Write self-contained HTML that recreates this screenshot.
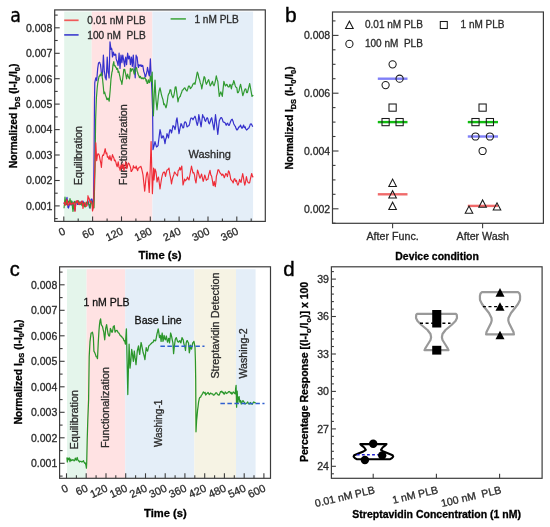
<!DOCTYPE html><html><head><meta charset="utf-8"><title>Figure</title><style>html,body{margin:0;padding:0;background:#fff;}svg{display:block;}</style></head><body><svg width="550" height="527" viewBox="0 0 550 527" font-family="'Liberation Sans', Arial, sans-serif">
<rect width="550" height="527" fill="#fff"/>
<rect x="64.2" y="11.6" width="27.5" height="209.8" fill="#e4f5eb"/>
<rect x="91.7" y="11.6" width="60.7" height="209.8" fill="#ffe2e3"/>
<rect x="152.4" y="11.6" width="100.7" height="209.8" fill="#e4eef8"/>
<text x="82.0" y="185.3" font-size="10.8" fill="#2b2b2b" font-weight="normal" transform="rotate(-90 82.0 185.3)"  stroke="#2b2b2b" stroke-width="0.3">Equilibration</text>
<text x="127.0" y="185.2" font-size="10.8" fill="#2b2b2b" font-weight="normal" transform="rotate(-90 127.0 185.2)"  stroke="#2b2b2b" stroke-width="0.3">Functionalization</text>
<clipPath id="ca"><rect x="55" y="10.5" width="210" height="210.5"/></clipPath>
<g clip-path="url(#ca)">
<polyline points="64.0,203.8 64.5,202.1 65.0,202.0 65.5,200.9 66.0,202.3 66.5,199.6 67.0,197.4 67.5,203.0 68.0,207.6 68.5,208.0 69.0,206.0 69.5,204.4 70.0,202.5 70.5,203.3 71.0,205.2 71.5,203.8 72.0,204.0 72.5,203.7 73.0,202.0 73.5,205.4 74.0,205.6 74.5,208.3 75.0,210.5 75.5,205.3 76.0,202.5 76.5,201.0 77.0,201.4 77.5,204.5 78.0,204.4 78.5,203.9 79.0,203.1 79.5,202.1 80.0,204.6 80.5,203.1 81.0,201.8 81.5,201.6 82.0,203.6 82.5,201.8 83.0,201.2 83.5,202.8 84.0,205.3 84.5,203.8 85.0,203.8 85.5,204.5 86.0,204.1 86.5,204.1 87.0,204.3 87.5,202.0 88.0,200.9 88.5,203.4 89.0,205.2 89.5,207.5 90.0,208.2 90.5,202.2 91.0,199.4 91.5,199.0 92.0,199.1 92.5,202.1 93.0,207.0 93.6,200.0 94.1,150.0 94.5,100.0 94.8,82.6 95.3,80.1 95.8,77.9 96.2,78.0 96.7,80.7 97.7,68.4 98.6,62.7 99.1,62.5 99.6,62.2 100.0,63.4 100.5,64.6 101.0,69.0 101.5,74.1 102.0,74.0 102.4,76.0 103.4,55.1 104.3,71.2 104.8,74.2 105.3,77.9 105.8,77.8 106.2,79.8 107.2,57.0 108.1,72.2 108.6,73.7 109.1,77.9 110.0,41.8 110.5,45.8 111.0,49.4 111.5,48.3 111.9,49.4 112.4,57.0 112.9,55.8 113.4,52.2 114.3,55.1 114.8,55.3 115.3,54.1 115.8,54.5 116.2,58.9 116.7,60.6 117.2,61.7 118.1,65.5 119.1,53.2 120.0,68.4 121.0,55.1 121.5,57.8 121.9,62.7 122.8,55.1 123.3,58.0 123.8,60.8 124.2,63.7 124.7,66.5 125.2,59.8 125.7,57.0 126.6,64.6 127.1,58.7 127.6,53.2 128.1,55.8 128.5,58.9 129.0,58.4 129.5,56.0 129.9,59.1 130.4,64.6 130.9,61.5 131.4,57.0 131.9,60.7 132.3,66.5 132.8,60.5 133.3,55.1 134.2,68.4 134.7,72.3 135.2,77.8 136.1,55.1 136.6,57.5 137.1,57.0 137.6,61.8 138.0,65.5 138.5,67.5 139.0,64.6 139.4,65.7 139.9,65.5 140.4,65.9 140.9,64.6 141.4,66.4 141.8,66.5 142.3,65.4 142.8,65.5 143.7,71.2 144.2,72.6 144.7,74.1 145.1,76.9 145.6,76.9 146.1,74.6 146.6,73.1 147.1,70.4 147.5,67.4 148.0,69.8 148.5,72.2 148.9,74.7 149.4,75.9 150.4,58.9 151.1,75.9 151.8,88.0 152.6,110.0 153.0,149.7 153.5,147.5 154.0,146.0 154.5,143.7 155.0,141.7 155.8,144.6 156.5,147.0 157.2,146.5 158.0,145.7 160.0,129.7 160.8,133.0 161.5,138.0 162.2,137.7 163.0,135.7 163.7,137.1 164.3,139.8 165.0,143.7 165.7,139.1 166.3,138.0 167.0,133.7 167.8,135.5 168.5,138.0 169.2,132.9 170.0,129.7 170.8,130.2 171.5,133.0 172.2,129.8 173.0,125.7 173.7,126.0 174.3,127.1 175.0,129.7 175.7,126.3 176.3,120.6 177.0,117.8 179.0,133.7 179.7,130.0 180.3,127.0 181.0,123.7 181.7,124.7 182.3,126.5 183.0,128.0 183.7,127.3 184.3,123.3 185.0,121.8 185.7,122.3 186.3,123.4 187.0,127.0 187.7,126.4 188.3,125.8 189.0,125.7 189.7,123.4 190.3,120.1 191.0,118.0 191.7,118.1 192.3,118.5 193.0,119.8 193.7,118.1 194.3,117.6 195.0,116.2 195.8,118.9 196.5,122.4 197.3,125.3 198.1,121.9 198.8,114.7 201.1,126.8 202.6,114.7 203.4,117.2 204.1,117.1 204.9,120.7 205.6,121.4 206.4,119.0 207.1,117.7 207.9,118.8 208.6,122.7 209.4,123.8 210.2,121.8 210.9,119.1 211.7,117.7 214.0,129.9 215.5,114.7 217.8,134.4 219.3,120.7 220.1,119.1 220.8,117.7 221.6,117.7 222.4,119.3 223.1,121.8 223.9,122.3 224.7,122.3 225.4,123.5 226.2,125.3 226.9,123.8 227.7,123.1 228.4,125.1 229.2,125.3 229.9,123.5 230.7,121.2 231.4,119.7 232.2,119.2 233.0,121.2 233.7,123.7 234.5,125.3 235.3,126.3 236.0,128.4 236.8,129.9 237.5,129.6 238.3,128.1 239.0,126.8 239.8,126.8 240.5,125.0 241.3,127.1 242.1,128.3 242.8,127.1 243.6,125.0 244.3,127.7 245.1,126.8 245.8,129.0 246.6,130.0 247.4,129.3 248.2,128.3 248.9,127.9 249.7,126.0 250.4,124.0 251.2,123.8 251.9,125.0 252.7,126.8" fill="none" stroke="#3530cc" stroke-width="1.2" stroke-linejoin="round" />
<polyline points="64.0,208.2 64.5,203.5 65.0,197.2 65.5,201.4 66.0,204.3 66.5,204.7 67.0,201.9 67.5,202.1 68.0,202.2 68.5,201.0 69.0,202.8 69.5,202.6 70.0,198.5 70.5,201.7 71.0,202.7 71.5,200.9 72.0,201.2 72.5,207.6 73.0,211.3 73.5,207.6 74.0,203.8 74.5,201.3 75.0,202.5 75.5,202.1 76.0,202.6 76.5,201.7 77.0,201.7 77.5,202.8 78.0,200.8 78.5,200.8 79.0,202.4 79.5,203.2 80.0,204.5 80.5,203.3 81.0,202.7 81.5,203.8 82.0,205.6 82.5,203.3 83.0,202.8 83.5,203.3 84.0,203.4 84.5,206.3 85.0,207.0 85.5,206.4 86.0,204.6 86.5,202.4 87.0,202.1 87.5,201.3 88.0,202.9 88.5,203.8 89.0,204.6 89.5,205.6 90.0,207.9 90.5,204.7 91.0,202.7 91.5,201.0 92.0,202.7 92.5,206.3 93.0,206.0 93.5,207.9 94.0,208.0 95.0,170.0 95.6,120.0 96.4,98.0 97.2,88.0 97.7,83.4 98.2,80.7 99.1,76.0 99.6,76.2 100.1,74.6 100.5,75.7 101.0,74.1 101.5,72.7 102.0,76.0 102.5,78.8 102.9,82.6 103.4,87.7 103.9,93.6 104.6,92.0 105.4,95.2 106.2,97.0 106.9,99.7 107.5,99.5 108.0,98.0 108.6,99.5 109.2,101.2 109.7,95.4 110.2,90.0 111.0,78.8 111.5,75.4 111.9,72.2 112.4,70.7 112.9,65.5 113.8,61.7 114.3,65.8 114.8,65.5 115.2,65.9 115.7,67.4 116.2,67.4 116.7,69.3 117.6,68.4 118.1,72.5 118.6,71.2 119.0,72.1 119.5,75.0 120.0,76.8 120.5,79.8 121.0,80.8 121.4,81.7 121.9,84.5 122.8,77.9 123.3,74.1 123.8,69.3 124.2,70.3 124.7,69.3 125.2,72.1 125.7,74.1 126.6,78.8 127.1,75.6 127.6,74.1 128.1,76.0 128.5,76.9 129.0,78.1 129.5,78.8 129.9,75.5 130.4,68.4 130.9,69.8 131.4,71.2 131.9,68.9 132.3,69.3 132.8,68.8 133.3,70.3 134.2,74.1 134.7,73.2 135.2,69.3 135.6,68.3 136.1,68.4 136.6,67.7 137.1,71.2 137.6,72.1 138.0,74.1 138.5,75.1 139.0,76.0 139.4,77.6 139.9,76.9 140.4,76.4 140.9,77.9 141.4,78.6 141.8,77.9 142.3,78.7 142.8,77.9 143.7,78.8 144.2,77.7 144.7,77.9 145.1,78.2 145.6,78.8 146.1,81.1 146.6,79.8 147.1,83.4 147.5,83.5 148.0,82.5 148.5,79.8 148.9,81.5 149.4,82.6 149.9,80.4 150.4,76.0 150.9,78.7 151.3,81.6 152.2,72.2 152.8,100.0 153.4,115.8 154.2,95.0 155.0,80.0 156.0,100.0 156.5,104.8 157.0,109.8 158.5,95.0 159.2,90.6 160.0,87.9 160.8,91.5 161.5,95.0 162.2,97.3 163.0,99.8 163.8,104.7 164.5,104.0 165.2,105.7 166.0,107.8 166.7,105.1 167.3,101.3 168.0,96.0 168.7,93.8 169.3,93.1 170.0,89.9 170.8,89.8 171.5,94.0 172.2,96.0 173.0,97.8 173.8,95.8 174.5,92.0 175.2,87.1 176.0,86.9 178.0,101.8 178.8,98.2 179.5,97.0 180.2,96.5 181.0,93.9 181.7,92.3 182.3,90.2 183.0,90.0 183.7,88.9 184.3,88.1 185.0,87.9 185.7,89.7 186.3,90.4 187.0,91.0 187.7,89.0 188.3,86.9 189.0,85.9 189.7,86.5 190.3,88.6 191.0,88.0 191.7,87.0 192.3,85.9 193.0,83.9 193.7,83.9 194.3,82.9 195.0,84.3 197.3,72.1 198.1,73.9 198.8,77.8 199.6,79.7 200.3,82.9 201.1,84.9 201.8,88.9 204.1,76.7 204.9,77.6 205.6,81.9 206.4,84.3 207.2,82.4 207.9,80.9 208.7,79.7 209.4,82.4 210.2,85.8 211.0,84.6 211.7,83.1 212.5,81.3 213.2,84.5 214.0,85.8 214.8,83.4 215.5,80.5 216.3,75.9 217.1,79.4 217.8,81.3 219.3,96.4 220.1,93.8 220.8,91.9 221.6,94.1 222.3,96.4 223.9,81.3 224.7,84.1 225.4,86.0 226.2,84.8 226.9,84.3 227.7,86.2 228.4,87.0 229.2,86.8 229.9,84.3 230.7,85.8 231.4,88.9 232.2,84.3 232.9,84.5 233.7,80.5 234.5,82.8 235.2,85.7 236.0,87.3 236.8,87.7 237.5,92.6 238.3,92.6 239.1,90.6 239.8,86.9 240.6,84.3 241.3,87.7 242.1,92.0 242.8,95.7 243.6,93.3 244.3,90.9 245.1,88.9 245.9,89.0 246.6,92.6 247.4,92.6 248.2,89.5 248.9,86.6 249.7,83.5 252.0,96.4 252.6,95.8 253.2,95.0" fill="none" stroke="#309a30" stroke-width="1.2" stroke-linejoin="round" />
<polyline points="64.0,203.9 64.5,202.2 65.0,205.2 65.5,205.1 66.0,203.9 66.5,201.4 67.0,199.5 67.5,202.2 68.0,205.4 68.5,204.9 69.0,204.2 69.5,201.9 70.0,201.6 70.5,203.9 71.0,204.6 71.5,203.6 72.0,204.0 72.5,203.0 73.0,203.8 73.5,202.6 74.0,203.1 74.5,207.4 75.0,211.5 75.5,207.0 76.0,201.0 76.5,201.2 77.0,202.6 77.5,200.6 78.0,201.7 78.5,204.2 79.0,204.6 79.5,202.8 80.0,203.1 80.5,203.9 81.0,202.2 81.5,201.5 82.0,200.9 82.5,204.0 83.0,208.5 83.5,205.1 84.0,203.0 84.5,203.1 85.0,202.3 85.5,205.3 86.0,206.5 86.5,205.9 87.0,205.7 87.5,201.6 88.0,195.7 88.5,198.9 89.0,197.9 89.5,200.0 90.0,202.5 90.5,201.0 91.0,201.9 91.5,201.7 92.0,203.6 92.5,211.0 93.0,209.0 93.6,205.0 94.6,175.0 95.8,142.7 96.7,160.6 97.3,155.8 98.0,153.8 98.7,154.0 99.3,155.5 100.1,159.8 100.8,162.9 101.4,167.5 102.2,157.2 102.8,155.0 103.5,155.5 104.3,152.6 105.2,148.7 106.1,153.8 106.8,152.9 107.4,157.2 108.1,156.7 108.7,158.9 109.3,159.2 109.9,155.5 110.6,159.1 111.2,160.6 111.8,158.1 112.5,154.6 113.2,156.8 113.9,158.1 114.5,160.8 115.0,160.0 115.8,161.9 116.5,164.8 117.2,166.7 117.7,164.4 118.2,161.9 119.1,167.6 119.6,167.8 120.1,170.5 120.5,167.6 121.0,164.8 121.5,166.0 122.0,168.6 122.5,165.5 122.9,163.8 123.4,166.4 123.9,170.5 124.4,168.6 124.9,166.7 125.8,161.9 126.3,164.9 126.8,168.6 127.2,167.6 127.7,164.8 128.4,163.0 129.1,163.8 129.8,165.5 130.6,167.6 131.1,171.4 131.5,171.4 132.0,170.5 132.5,169.5 132.9,168.8 133.4,165.7 134.2,167.8 134.9,167.6 135.6,168.1 136.2,166.0 136.9,169.1 137.7,170.7 138.3,168.1 138.9,168.0 139.5,167.0 140.2,167.0 140.8,166.3 141.5,168.2 142.2,171.1 143.0,175.0 144.7,191.1 146.0,178.0 146.7,173.7 147.3,172.0 147.8,174.3 148.3,180.0 149.2,192.4 150.2,170.0 151.1,141.5 151.8,170.0 152.4,193.6 153.0,180.0 153.6,168.0 154.0,180.0 154.5,174.7 155.0,169.0 155.5,170.5 156.0,172.0 156.5,176.3 157.0,182.0 157.8,178.5 158.5,177.0 160.0,189.0 160.8,183.5 161.5,179.0 162.2,175.6 163.0,173.0 163.8,172.1 164.5,172.0 165.0,174.2 165.5,176.5 166.2,172.8 167.0,170.0 167.7,169.7 168.3,169.2 169.0,168.0 169.5,171.9 170.0,175.0 170.8,178.8 171.5,184.0 172.2,179.9 173.0,177.0 173.8,174.9 174.5,172.0 175.2,172.8 176.0,174.0 176.8,175.0 177.5,176.0 178.2,170.5 179.0,170.0 179.8,167.3 180.5,170.0 181.2,168.3 181.8,166.0 183.0,185.0 183.8,182.3 184.5,179.0 185.2,180.9 186.0,180.0 186.8,179.2 187.5,177.0 188.2,178.7 189.0,180.0 191.5,166.0 192.2,169.5 193.0,173.0 193.8,172.6 194.5,175.0 195.2,179.9 196.0,183.0 197.5,170.0 198.2,171.9 199.0,175.0 199.5,177.1 200.0,178.2 200.8,176.3 201.6,174.0 202.4,178.0 203.2,181.4 203.9,179.1 204.7,175.0 205.5,177.2 206.3,180.3 207.1,179.4 207.9,179.3 208.6,175.4 209.3,172.9 210.0,170.3 210.8,174.9 211.6,176.1 212.4,180.5 213.2,185.6 213.7,184.7 214.2,181.4 214.8,184.8 215.3,186.6 215.9,182.1 216.4,176.1 217.2,173.8 217.9,169.8 218.7,169.8 219.5,171.9 220.3,173.3 221.1,174.0 221.9,175.6 222.7,174.0 223.5,175.2 224.3,177.7 225.1,175.6 225.8,173.5 226.6,174.4 227.4,176.6 227.9,174.0 228.5,170.8 229.3,172.1 230.1,175.6 230.8,179.6 231.6,180.3 232.4,181.3 233.2,183.0 234.0,179.3 234.8,178.7 235.6,181.3 236.4,180.3 237.2,183.7 238.0,185.1 238.8,182.7 239.6,179.3 240.3,181.4 241.1,182.4 241.9,177.6 242.7,173.5 243.4,177.1 244.1,182.0 244.8,185.1 245.6,181.8 246.4,176.6 247.2,180.4 248.0,182.4 248.8,182.9 249.6,183.0 250.3,179.4 251.0,176.5 251.7,173.5 252.5,176.5 253.3,177.2" fill="none" stroke="#ef2b36" stroke-width="1.15" stroke-linejoin="round" />
</g>
<rect x="54.7" y="9.9" width="210.6" height="211.5" fill="none" stroke="#3c3c3c" stroke-width="1.2"/>
<line x1="54.7" y1="205.9" x2="59.7" y2="205.9" stroke="#3c3c3c" stroke-width="1.1"/>
<line x1="54.7" y1="180.5" x2="59.7" y2="180.5" stroke="#3c3c3c" stroke-width="1.1"/>
<line x1="54.7" y1="155.0" x2="59.7" y2="155.0" stroke="#3c3c3c" stroke-width="1.1"/>
<line x1="54.7" y1="129.6" x2="59.7" y2="129.6" stroke="#3c3c3c" stroke-width="1.1"/>
<line x1="54.7" y1="104.1" x2="59.7" y2="104.1" stroke="#3c3c3c" stroke-width="1.1"/>
<line x1="54.7" y1="78.7" x2="59.7" y2="78.7" stroke="#3c3c3c" stroke-width="1.1"/>
<line x1="54.7" y1="53.3" x2="59.7" y2="53.3" stroke="#3c3c3c" stroke-width="1.1"/>
<line x1="54.7" y1="27.8" x2="59.7" y2="27.8" stroke="#3c3c3c" stroke-width="1.1"/>
<line x1="54.7" y1="218.6" x2="57.7" y2="218.6" stroke="#3c3c3c" stroke-width="1.1"/>
<line x1="54.7" y1="193.2" x2="57.7" y2="193.2" stroke="#3c3c3c" stroke-width="1.1"/>
<line x1="54.7" y1="167.7" x2="57.7" y2="167.7" stroke="#3c3c3c" stroke-width="1.1"/>
<line x1="54.7" y1="142.3" x2="57.7" y2="142.3" stroke="#3c3c3c" stroke-width="1.1"/>
<line x1="54.7" y1="116.9" x2="57.7" y2="116.9" stroke="#3c3c3c" stroke-width="1.1"/>
<line x1="54.7" y1="91.4" x2="57.7" y2="91.4" stroke="#3c3c3c" stroke-width="1.1"/>
<line x1="54.7" y1="66.0" x2="57.7" y2="66.0" stroke="#3c3c3c" stroke-width="1.1"/>
<line x1="54.7" y1="40.5" x2="57.7" y2="40.5" stroke="#3c3c3c" stroke-width="1.1"/>
<line x1="54.7" y1="15.1" x2="57.7" y2="15.1" stroke="#3c3c3c" stroke-width="1.1"/>
<line x1="63.8" y1="221.4" x2="63.8" y2="216.4" stroke="#3c3c3c" stroke-width="1.1"/>
<line x1="92.6" y1="221.4" x2="92.6" y2="216.4" stroke="#3c3c3c" stroke-width="1.1"/>
<line x1="121.5" y1="221.4" x2="121.5" y2="216.4" stroke="#3c3c3c" stroke-width="1.1"/>
<line x1="150.3" y1="221.4" x2="150.3" y2="216.4" stroke="#3c3c3c" stroke-width="1.1"/>
<line x1="179.1" y1="221.4" x2="179.1" y2="216.4" stroke="#3c3c3c" stroke-width="1.1"/>
<line x1="208.0" y1="221.4" x2="208.0" y2="216.4" stroke="#3c3c3c" stroke-width="1.1"/>
<line x1="236.8" y1="221.4" x2="236.8" y2="216.4" stroke="#3c3c3c" stroke-width="1.1"/>
<line x1="78.2" y1="221.4" x2="78.2" y2="218.4" stroke="#3c3c3c" stroke-width="1.1"/>
<line x1="107.1" y1="221.4" x2="107.1" y2="218.4" stroke="#3c3c3c" stroke-width="1.1"/>
<line x1="135.9" y1="221.4" x2="135.9" y2="218.4" stroke="#3c3c3c" stroke-width="1.1"/>
<line x1="164.7" y1="221.4" x2="164.7" y2="218.4" stroke="#3c3c3c" stroke-width="1.1"/>
<line x1="193.6" y1="221.4" x2="193.6" y2="218.4" stroke="#3c3c3c" stroke-width="1.1"/>
<line x1="222.4" y1="221.4" x2="222.4" y2="218.4" stroke="#3c3c3c" stroke-width="1.1"/>
<line x1="251.2" y1="221.4" x2="251.2" y2="218.4" stroke="#3c3c3c" stroke-width="1.1"/>
<text x="52.3" y="209.7" font-size="10.5" fill="#2b2b2b" text-anchor="end" stroke="#2b2b2b" stroke-width="0.3">0.001</text>
<text x="52.3" y="184.2" font-size="10.5" fill="#2b2b2b" text-anchor="end" stroke="#2b2b2b" stroke-width="0.3">0.002</text>
<text x="52.3" y="158.8" font-size="10.5" fill="#2b2b2b" text-anchor="end" stroke="#2b2b2b" stroke-width="0.3">0.003</text>
<text x="52.3" y="133.3" font-size="10.5" fill="#2b2b2b" text-anchor="end" stroke="#2b2b2b" stroke-width="0.3">0.004</text>
<text x="52.3" y="107.9" font-size="10.5" fill="#2b2b2b" text-anchor="end" stroke="#2b2b2b" stroke-width="0.3">0.005</text>
<text x="52.3" y="82.5" font-size="10.5" fill="#2b2b2b" text-anchor="end" stroke="#2b2b2b" stroke-width="0.3">0.006</text>
<text x="52.3" y="57.0" font-size="10.5" fill="#2b2b2b" text-anchor="end" stroke="#2b2b2b" stroke-width="0.3">0.007</text>
<text x="52.3" y="31.6" font-size="10.5" fill="#2b2b2b" text-anchor="end" stroke="#2b2b2b" stroke-width="0.3">0.008</text>
<text x="66.3" y="233.8" font-size="10.8" fill="#2b2b2b" text-anchor="end" transform="rotate(-25 66.3 233.8)" stroke="#2b2b2b" stroke-width="0.3">0</text>
<text x="95.1" y="233.8" font-size="10.8" fill="#2b2b2b" text-anchor="end" transform="rotate(-25 95.1 233.8)" stroke="#2b2b2b" stroke-width="0.3">60</text>
<text x="124.0" y="233.8" font-size="10.8" fill="#2b2b2b" text-anchor="end" transform="rotate(-25 124.0 233.8)" stroke="#2b2b2b" stroke-width="0.3">120</text>
<text x="152.8" y="233.8" font-size="10.8" fill="#2b2b2b" text-anchor="end" transform="rotate(-25 152.8 233.8)" stroke="#2b2b2b" stroke-width="0.3">180</text>
<text x="181.6" y="233.8" font-size="10.8" fill="#2b2b2b" text-anchor="end" transform="rotate(-25 181.6 233.8)" stroke="#2b2b2b" stroke-width="0.3">240</text>
<text x="210.5" y="233.8" font-size="10.8" fill="#2b2b2b" text-anchor="end" transform="rotate(-25 210.5 233.8)" stroke="#2b2b2b" stroke-width="0.3">300</text>
<text x="239.3" y="233.8" font-size="10.8" fill="#2b2b2b" text-anchor="end" transform="rotate(-25 239.3 233.8)" stroke="#2b2b2b" stroke-width="0.3">360</text>
<text x="188.5" y="158.0" font-size="11" fill="#2b2b2b" stroke="#2b2b2b" stroke-width="0.3">Washing</text>
<line x1="64.2" y1="20.3" x2="78.6" y2="20.3" stroke="#f05a5a" stroke-width="1.7"/>
<text x="87.3" y="24.2" font-size="10.1" fill="#2b2b2b" stroke="#2b2b2b" stroke-width="0.3">0.01 nM PLB</text>
<line x1="64.2" y1="34.9" x2="78.6" y2="34.9" stroke="#4646d0" stroke-width="1.7"/>
<text x="87.3" y="38.8" font-size="10.1" fill="#2b2b2b" xml:space="preserve" stroke="#2b2b2b" stroke-width="0.3">100 nM  PLB</text>
<line x1="170.6" y1="18.9" x2="185.9" y2="18.9" stroke="#50ad50" stroke-width="1.7"/>
<text x="194.4" y="22.9" font-size="10.1" fill="#2b2b2b" stroke="#2b2b2b" stroke-width="0.3">1 nM PLB</text>
<text x="17.1" y="168.2" font-size="10.3" fill="#000" font-weight="bold" transform="rotate(-90 17.1 168.2)"  stroke="#000" stroke-width="0.3">Normalized I<tspan dy="2.5" font-size="7.5">DS</tspan><tspan dy="-2.5"> (I-I</tspan><tspan dy="2.5" font-size="7.5">0</tspan><tspan dy="-2.5">/I</tspan><tspan dy="2.5" font-size="7.5">0</tspan><tspan dy="-2.5">)</tspan></text>
<text x="10.2" y="21.8" font-size="19" fill="#000" font-family="DejaVu Sans, sans-serif" stroke="#000" stroke-width="0.35" transform="scale(0.92 1)" transform-origin="10.2 21.8">a</text>
<text x="138.5" y="259.1" font-size="11.3" font-weight="bold" fill="#000" stroke="#000" stroke-width="0.3">Time (s)</text>
<rect x="332.5" y="12.0" width="210.9" height="211.3" fill="none" stroke="#3c3c3c" stroke-width="1.2"/>
<line x1="332.5" y1="208.8" x2="338.5" y2="208.8" stroke="#3c3c3c" stroke-width="1.1"/>
<line x1="332.5" y1="151.0" x2="338.5" y2="151.0" stroke="#3c3c3c" stroke-width="1.1"/>
<line x1="332.5" y1="93.2" x2="338.5" y2="93.2" stroke="#3c3c3c" stroke-width="1.1"/>
<line x1="332.5" y1="35.4" x2="338.5" y2="35.4" stroke="#3c3c3c" stroke-width="1.1"/>
<line x1="332.5" y1="223.2" x2="335.5" y2="223.2" stroke="#3c3c3c" stroke-width="1.1"/>
<line x1="332.5" y1="194.3" x2="335.5" y2="194.3" stroke="#3c3c3c" stroke-width="1.1"/>
<line x1="332.5" y1="179.9" x2="335.5" y2="179.9" stroke="#3c3c3c" stroke-width="1.1"/>
<line x1="332.5" y1="165.4" x2="335.5" y2="165.4" stroke="#3c3c3c" stroke-width="1.1"/>
<line x1="332.5" y1="136.5" x2="335.5" y2="136.5" stroke="#3c3c3c" stroke-width="1.1"/>
<line x1="332.5" y1="122.1" x2="335.5" y2="122.1" stroke="#3c3c3c" stroke-width="1.1"/>
<line x1="332.5" y1="107.6" x2="335.5" y2="107.6" stroke="#3c3c3c" stroke-width="1.1"/>
<line x1="332.5" y1="78.7" x2="335.5" y2="78.7" stroke="#3c3c3c" stroke-width="1.1"/>
<line x1="332.5" y1="64.3" x2="335.5" y2="64.3" stroke="#3c3c3c" stroke-width="1.1"/>
<line x1="332.5" y1="49.8" x2="335.5" y2="49.8" stroke="#3c3c3c" stroke-width="1.1"/>
<line x1="332.5" y1="20.9" x2="335.5" y2="20.9" stroke="#3c3c3c" stroke-width="1.1"/>
<line x1="392.6" y1="223.3" x2="392.6" y2="228.3" stroke="#3c3c3c" stroke-width="1.1"/>
<line x1="482.6" y1="223.3" x2="482.6" y2="228.3" stroke="#3c3c3c" stroke-width="1.1"/>
<text x="330.2" y="212.5" font-size="10.5" fill="#2b2b2b" text-anchor="end" stroke="#2b2b2b" stroke-width="0.3">0.002</text>
<text x="330.2" y="154.7" font-size="10.5" fill="#2b2b2b" text-anchor="end" stroke="#2b2b2b" stroke-width="0.3">0.004</text>
<text x="330.2" y="96.9" font-size="10.5" fill="#2b2b2b" text-anchor="end" stroke="#2b2b2b" stroke-width="0.3">0.006</text>
<text x="330.2" y="39.1" font-size="10.5" fill="#2b2b2b" text-anchor="end" stroke="#2b2b2b" stroke-width="0.3">0.008</text>
<line x1="377.8" y1="78.7" x2="407.5" y2="78.7" stroke="#7f7ff7" stroke-width="2.4"/>
<line x1="377.8" y1="122.1" x2="407.5" y2="122.1" stroke="#11bb11" stroke-width="2.4"/>
<line x1="377.8" y1="194.3" x2="407.5" y2="194.3" stroke="#f06a6a" stroke-width="2.4"/>
<line x1="467.8" y1="136.5" x2="498" y2="136.5" stroke="#7f7ff7" stroke-width="2.4"/>
<line x1="467.8" y1="122.1" x2="498" y2="122.1" stroke="#11bb11" stroke-width="2.4"/>
<line x1="467.8" y1="205.9" x2="498" y2="205.9" stroke="#f06a6a" stroke-width="2.4"/>
<polygon points="388.8,186.4 396.4,186.4 392.6,179.1" fill="none" stroke="#1a1a1a" stroke-width="1.05"/>
<polygon points="388.8,197.9 396.4,197.9 392.6,190.7" fill="none" stroke="#1a1a1a" stroke-width="1.05"/>
<polygon points="388.8,209.5 396.4,209.5 392.6,202.2" fill="none" stroke="#1a1a1a" stroke-width="1.05"/>
<rect x="389.0" y="104.0" width="7.2" height="7.2" fill="none" stroke="#1a1a1a" stroke-width="1.05"/>
<rect x="382.0" y="118.5" width="7.2" height="7.2" fill="none" stroke="#1a1a1a" stroke-width="1.05"/>
<rect x="396.0" y="118.5" width="7.2" height="7.2" fill="none" stroke="#1a1a1a" stroke-width="1.05"/>
<circle cx="392.6" cy="64.3" r="3.6" fill="none" stroke="#1a1a1a" stroke-width="1.05"/>
<circle cx="399.6" cy="78.7" r="3.6" fill="none" stroke="#1a1a1a" stroke-width="1.05"/>
<circle cx="385.6" cy="85.1" r="3.6" fill="none" stroke="#1a1a1a" stroke-width="1.05"/>
<polygon points="465.2,213.2 472.8,213.2 469.0,206.0" fill="none" stroke="#1a1a1a" stroke-width="1.05"/>
<polygon points="478.8,207.2 486.4,207.2 482.6,199.9" fill="none" stroke="#1a1a1a" stroke-width="1.05"/>
<polygon points="493.2,210.0 500.8,210.0 497.0,202.8" fill="none" stroke="#1a1a1a" stroke-width="1.05"/>
<rect x="479.0" y="104.0" width="7.2" height="7.2" fill="none" stroke="#1a1a1a" stroke-width="1.05"/>
<rect x="471.9" y="118.5" width="7.2" height="7.2" fill="none" stroke="#1a1a1a" stroke-width="1.05"/>
<rect x="486.3" y="118.5" width="7.2" height="7.2" fill="none" stroke="#1a1a1a" stroke-width="1.05"/>
<circle cx="475.5" cy="136.5" r="3.6" fill="none" stroke="#1a1a1a" stroke-width="1.05"/>
<circle cx="489.9" cy="136.5" r="3.6" fill="none" stroke="#1a1a1a" stroke-width="1.05"/>
<circle cx="482.6" cy="151.0" r="3.6" fill="none" stroke="#1a1a1a" stroke-width="1.05"/>
<polygon points="345.6,28.4 353.2,28.4 349.4,21.2" fill="none" stroke="#1a1a1a" stroke-width="1.05"/>
<text x="365" y="27.6" font-size="10" fill="#2b2b2b" stroke="#2b2b2b" stroke-width="0.3">0.01 nM PLB</text>
<circle cx="349.4" cy="43.9" r="3.6" fill="none" stroke="#1a1a1a" stroke-width="1.05"/>
<text x="365" y="47" font-size="10" fill="#2b2b2b" xml:space="preserve" stroke="#2b2b2b" stroke-width="0.3">100 nM  PLB</text>
<rect x="440.3" y="21.5" width="7" height="7" fill="none" stroke="#1a1a1a" stroke-width="1.05"/>
<text x="460.6" y="27.6" font-size="10" fill="#2b2b2b" stroke="#2b2b2b" stroke-width="0.3">1 nM PLB</text>
<text x="392.6" y="240.2" font-size="10.7" fill="#2b2b2b" text-anchor="middle" stroke="#2b2b2b" stroke-width="0.3">After Func.</text>
<text x="482.8" y="240.2" font-size="10.7" fill="#2b2b2b" text-anchor="middle" stroke="#2b2b2b" stroke-width="0.3">After Wash</text>
<text x="395.3" y="259.5" font-size="10.45" font-weight="bold" fill="#000" stroke="#000" stroke-width="0.3">Device condition</text>
<text x="293.3" y="169.5" font-size="10.15" fill="#000" font-weight="bold" transform="rotate(-90 293.3 169.5)"  stroke="#000" stroke-width="0.3">Normalized I<tspan dy="2.5" font-size="7.5">DS</tspan><tspan dy="-2.5"> (I-I</tspan><tspan dy="2.5" font-size="7.5">0</tspan><tspan dy="-2.5">/I</tspan><tspan dy="2.5" font-size="7.5">0</tspan><tspan dy="-2.5">)</tspan></text>
<text x="285" y="22.0" font-size="21" fill="#000" stroke="#000" stroke-width="0.4">b</text>
<rect x="67.0" y="269.2" width="19.6" height="209.1" fill="#e4f5eb"/>
<rect x="86.6" y="269.2" width="38.6" height="209.1" fill="#ffe2e3"/>
<rect x="125.2" y="269.2" width="69.1" height="209.1" fill="#e4eef8"/>
<rect x="194.3" y="269.2" width="41.7" height="209.1" fill="#f6f3e4"/>
<rect x="236.0" y="269.2" width="19.6" height="209.1" fill="#e4eef8"/>
<clipPath id="cc"><rect x="60" y="267.5" width="210" height="210.5"/></clipPath>
<g clip-path="url(#cc)">
<polyline points="66.9,457.5 67.3,462.0 67.7,458.2 68.5,459.7 69.2,457.8 70.0,461.6 70.7,459.0 71.3,460.6 71.9,460.5 72.5,459.9 73.0,459.7 73.5,460.0 74.1,460.9 74.7,460.3 75.3,458.2 75.8,459.6 76.4,460.1 77.2,457.5 77.8,459.6 78.3,460.9 78.9,460.7 79.5,462.0 80.0,461.4 80.6,461.3 81.2,461.3 81.7,462.0 82.3,461.8 82.9,461.3 83.5,460.6 84.0,462.0 84.6,463.2 85.2,462.8 85.9,465.0 86.4,468.1 86.7,462.8 87.2,440.0 87.8,420.0 88.6,399.8 89.2,356.8 90.0,341.7 90.5,337.6 91.1,333.1 91.8,332.9 92.4,332.2 92.9,334.3 93.4,337.9 93.9,351.1 94.4,352.0 94.9,353.0 95.6,354.9 96.2,356.7 96.8,356.8 97.5,358.7 98.3,341.7 99.0,330.3 99.5,324.6 100.0,320.8 100.6,318.9 101.3,324.6 101.9,325.7 102.5,326.5 103.2,329.8 103.8,332.2 104.2,335.6 104.7,339.8 105.2,334.6 105.7,328.4 106.6,324.6 107.3,329.2 108.1,334.1 108.8,335.8 109.5,336.0 110.0,332.5 110.4,328.4 111.0,329.8 111.7,332.1 112.3,332.2 112.8,329.8 113.3,326.5 113.8,326.8 114.2,325.6 115.1,332.2 115.7,330.9 116.4,330.5 117.0,330.3 117.6,331.7 118.3,332.7 118.9,333.1 119.5,334.0 120.2,335.5 120.8,336.0 121.4,336.0 122.1,337.4 122.7,337.9 123.3,338.7 124.0,340.8 124.6,340.7 125.4,344.2 126.4,328.8 127.1,361.3 127.8,394.6 128.4,369.8 129.1,344.2 130.0,368.1 130.8,361.3 131.7,349.3 132.5,354.4 132.9,358.1 133.4,361.3 133.9,355.9 134.3,351.0 135.1,357.9 135.6,360.9 136.0,364.7 137.3,351.0 137.9,348.5 138.5,345.9 139.1,351.2 139.7,354.4 140.4,347.8 141.1,342.5 141.8,345.5 142.5,349.3 143.1,352.5 143.7,354.4 144.3,356.7 144.9,359.6 146.2,347.6 146.9,350.4 147.6,351.0 148.2,348.6 148.8,345.9 149.7,345.1 150.5,344.2 151.3,343.6 152.2,342.5 153.1,342.2 153.9,339.9 154.8,340.7 155.6,340.8 156.3,337.7 157.0,333.9 157.6,331.5 158.2,328.8 158.8,332.3 159.5,337.6 160.3,335.3 161.1,341.4 161.6,336.7 162.2,333.0 163.0,341.4 163.6,339.2 164.1,335.3 164.7,338.0 165.3,339.8 165.9,338.2 166.4,336.0 166.9,339.4 167.5,342.1 168.1,339.9 168.7,338.3 169.5,342.9 170.1,338.2 170.6,333.0 171.1,334.4 171.7,336.8 172.3,340.1 172.9,342.9 173.6,353.6 174.4,346.0 175.2,339.8 175.8,338.3 176.3,337.6 176.9,339.4 177.5,341.4 178.1,342.0 178.6,342.1 179.2,341.2 179.8,340.6 180.4,342.1 180.9,342.9 181.4,340.5 182.0,337.6 182.6,338.9 183.2,339.8 183.8,343.3 184.3,345.2 184.9,347.0 185.5,350.5 186.2,342.9 186.8,340.8 187.4,340.6 187.9,342.1 188.5,342.9 189.3,352.8 189.9,349.6 190.4,345.2 191.0,348.3 191.6,349.0 192.1,346.4 192.7,342.9 193.3,342.6 193.9,341.4 194.4,343.9 195.0,347.5 195.4,360.0 195.7,380.0 196.0,431.8 196.6,420.5 197.1,415.6 197.6,409.8 198.1,406.3 198.6,401.9 199.3,398.6 199.9,397.3 200.6,397.2 201.3,395.4 202.0,394.6 202.7,393.2 203.3,391.9 203.9,392.7 204.6,393.2 205.1,392.3 205.6,395.0 206.1,394.5 206.6,393.9 207.3,393.3 208.0,392.5 208.7,393.4 209.3,394.6 209.9,394.0 210.6,393.0 211.2,393.7 211.9,393.9 212.6,393.8 213.2,395.0 213.9,395.0 214.6,394.6 215.3,393.5 216.0,392.8 216.6,392.8 217.2,393.9 217.8,394.6 218.5,395.0 219.2,395.0 219.9,393.2 220.6,391.6 221.2,391.8 221.8,391.2 222.5,392.6 223.2,392.3 223.8,394.0 224.5,394.1 225.2,391.9 225.8,392.5 226.5,393.5 227.2,393.0 227.9,392.6 228.6,391.6 229.2,391.5 229.8,391.8 230.5,393.2 231.2,392.5 231.9,394.2 232.6,393.2 233.2,391.9 233.8,392.6 234.3,393.0 235.2,393.9 235.7,388.0 236.1,385.3 236.6,407.2 237.2,391.2 237.8,403.2 238.4,398.0 239.1,396.6 239.8,402.0 240.5,400.5 241.2,404.0 241.8,403.2 242.3,400.9 242.8,401.0 243.3,400.8 243.8,401.9 244.4,402.5 245.0,404.0 245.7,403.6 246.4,403.2 247.1,402.7 247.7,402.0 248.4,403.6 249.1,403.9 249.8,404.0 250.4,402.5 251.1,403.8 251.8,403.9 252.4,404.2 253.1,402.8 253.8,402.0 254.4,402.5 254.9,402.5 255.5,403.2" fill="none" stroke="#2a962a" stroke-width="1.25" stroke-linejoin="round" />
</g>
<line x1="160.4" y1="346.3" x2="204.5" y2="346.3" stroke="#2f5fd0" stroke-width="1.5" stroke-dasharray="4.5 2.5"/>
<line x1="220.4" y1="403.4" x2="264.5" y2="403.4" stroke="#2f5fd0" stroke-width="1.5" stroke-dasharray="4.5 2.5"/>
<rect x="59.6" y="266.8" width="210.9" height="211.5" fill="none" stroke="#3c3c3c" stroke-width="1.2"/>
<line x1="59.6" y1="463.3" x2="64.6" y2="463.3" stroke="#3c3c3c" stroke-width="1.1"/>
<line x1="59.6" y1="437.8" x2="64.6" y2="437.8" stroke="#3c3c3c" stroke-width="1.1"/>
<line x1="59.6" y1="412.3" x2="64.6" y2="412.3" stroke="#3c3c3c" stroke-width="1.1"/>
<line x1="59.6" y1="386.8" x2="64.6" y2="386.8" stroke="#3c3c3c" stroke-width="1.1"/>
<line x1="59.6" y1="361.3" x2="64.6" y2="361.3" stroke="#3c3c3c" stroke-width="1.1"/>
<line x1="59.6" y1="335.8" x2="64.6" y2="335.8" stroke="#3c3c3c" stroke-width="1.1"/>
<line x1="59.6" y1="310.3" x2="64.6" y2="310.3" stroke="#3c3c3c" stroke-width="1.1"/>
<line x1="59.6" y1="284.8" x2="64.6" y2="284.8" stroke="#3c3c3c" stroke-width="1.1"/>
<line x1="59.6" y1="476.1" x2="62.6" y2="476.1" stroke="#3c3c3c" stroke-width="1.1"/>
<line x1="59.6" y1="450.6" x2="62.6" y2="450.6" stroke="#3c3c3c" stroke-width="1.1"/>
<line x1="59.6" y1="425.1" x2="62.6" y2="425.1" stroke="#3c3c3c" stroke-width="1.1"/>
<line x1="59.6" y1="399.6" x2="62.6" y2="399.6" stroke="#3c3c3c" stroke-width="1.1"/>
<line x1="59.6" y1="374.1" x2="62.6" y2="374.1" stroke="#3c3c3c" stroke-width="1.1"/>
<line x1="59.6" y1="348.6" x2="62.6" y2="348.6" stroke="#3c3c3c" stroke-width="1.1"/>
<line x1="59.6" y1="323.1" x2="62.6" y2="323.1" stroke="#3c3c3c" stroke-width="1.1"/>
<line x1="59.6" y1="297.6" x2="62.6" y2="297.6" stroke="#3c3c3c" stroke-width="1.1"/>
<line x1="59.6" y1="272.1" x2="62.6" y2="272.1" stroke="#3c3c3c" stroke-width="1.1"/>
<line x1="66.5" y1="478.3" x2="66.5" y2="473.3" stroke="#3c3c3c" stroke-width="1.1"/>
<line x1="86.2" y1="478.3" x2="86.2" y2="473.3" stroke="#3c3c3c" stroke-width="1.1"/>
<line x1="106.0" y1="478.3" x2="106.0" y2="473.3" stroke="#3c3c3c" stroke-width="1.1"/>
<line x1="125.7" y1="478.3" x2="125.7" y2="473.3" stroke="#3c3c3c" stroke-width="1.1"/>
<line x1="145.5" y1="478.3" x2="145.5" y2="473.3" stroke="#3c3c3c" stroke-width="1.1"/>
<line x1="165.2" y1="478.3" x2="165.2" y2="473.3" stroke="#3c3c3c" stroke-width="1.1"/>
<line x1="184.9" y1="478.3" x2="184.9" y2="473.3" stroke="#3c3c3c" stroke-width="1.1"/>
<line x1="204.7" y1="478.3" x2="204.7" y2="473.3" stroke="#3c3c3c" stroke-width="1.1"/>
<line x1="224.4" y1="478.3" x2="224.4" y2="473.3" stroke="#3c3c3c" stroke-width="1.1"/>
<line x1="244.2" y1="478.3" x2="244.2" y2="473.3" stroke="#3c3c3c" stroke-width="1.1"/>
<line x1="263.9" y1="478.3" x2="263.9" y2="473.3" stroke="#3c3c3c" stroke-width="1.1"/>
<line x1="76.4" y1="478.3" x2="76.4" y2="475.3" stroke="#3c3c3c" stroke-width="1.1"/>
<line x1="96.1" y1="478.3" x2="96.1" y2="475.3" stroke="#3c3c3c" stroke-width="1.1"/>
<line x1="115.8" y1="478.3" x2="115.8" y2="475.3" stroke="#3c3c3c" stroke-width="1.1"/>
<line x1="135.6" y1="478.3" x2="135.6" y2="475.3" stroke="#3c3c3c" stroke-width="1.1"/>
<line x1="155.3" y1="478.3" x2="155.3" y2="475.3" stroke="#3c3c3c" stroke-width="1.1"/>
<line x1="175.1" y1="478.3" x2="175.1" y2="475.3" stroke="#3c3c3c" stroke-width="1.1"/>
<line x1="194.8" y1="478.3" x2="194.8" y2="475.3" stroke="#3c3c3c" stroke-width="1.1"/>
<line x1="214.6" y1="478.3" x2="214.6" y2="475.3" stroke="#3c3c3c" stroke-width="1.1"/>
<line x1="234.3" y1="478.3" x2="234.3" y2="475.3" stroke="#3c3c3c" stroke-width="1.1"/>
<line x1="254.0" y1="478.3" x2="254.0" y2="475.3" stroke="#3c3c3c" stroke-width="1.1"/>
<text x="57.3" y="467.1" font-size="10.5" fill="#2b2b2b" text-anchor="end" stroke="#2b2b2b" stroke-width="0.3">0.001</text>
<text x="57.3" y="441.6" font-size="10.5" fill="#2b2b2b" text-anchor="end" stroke="#2b2b2b" stroke-width="0.3">0.002</text>
<text x="57.3" y="416.1" font-size="10.5" fill="#2b2b2b" text-anchor="end" stroke="#2b2b2b" stroke-width="0.3">0.003</text>
<text x="57.3" y="390.6" font-size="10.5" fill="#2b2b2b" text-anchor="end" stroke="#2b2b2b" stroke-width="0.3">0.004</text>
<text x="57.3" y="365.1" font-size="10.5" fill="#2b2b2b" text-anchor="end" stroke="#2b2b2b" stroke-width="0.3">0.005</text>
<text x="57.3" y="339.6" font-size="10.5" fill="#2b2b2b" text-anchor="end" stroke="#2b2b2b" stroke-width="0.3">0.006</text>
<text x="57.3" y="314.1" font-size="10.5" fill="#2b2b2b" text-anchor="end" stroke="#2b2b2b" stroke-width="0.3">0.007</text>
<text x="57.3" y="288.6" font-size="10.5" fill="#2b2b2b" text-anchor="end" stroke="#2b2b2b" stroke-width="0.3">0.008</text>
<text x="69.0" y="490.6" font-size="10.8" fill="#2b2b2b" text-anchor="end" transform="rotate(-25 69.0 490.6)" stroke="#2b2b2b" stroke-width="0.3">0</text>
<text x="88.7" y="490.6" font-size="10.8" fill="#2b2b2b" text-anchor="end" transform="rotate(-25 88.7 490.6)" stroke="#2b2b2b" stroke-width="0.3">60</text>
<text x="108.5" y="490.6" font-size="10.8" fill="#2b2b2b" text-anchor="end" transform="rotate(-25 108.5 490.6)" stroke="#2b2b2b" stroke-width="0.3">120</text>
<text x="128.2" y="490.6" font-size="10.8" fill="#2b2b2b" text-anchor="end" transform="rotate(-25 128.2 490.6)" stroke="#2b2b2b" stroke-width="0.3">180</text>
<text x="148.0" y="490.6" font-size="10.8" fill="#2b2b2b" text-anchor="end" transform="rotate(-25 148.0 490.6)" stroke="#2b2b2b" stroke-width="0.3">240</text>
<text x="167.7" y="490.6" font-size="10.8" fill="#2b2b2b" text-anchor="end" transform="rotate(-25 167.7 490.6)" stroke="#2b2b2b" stroke-width="0.3">300</text>
<text x="187.4" y="490.6" font-size="10.8" fill="#2b2b2b" text-anchor="end" transform="rotate(-25 187.4 490.6)" stroke="#2b2b2b" stroke-width="0.3">360</text>
<text x="207.2" y="490.6" font-size="10.8" fill="#2b2b2b" text-anchor="end" transform="rotate(-25 207.2 490.6)" stroke="#2b2b2b" stroke-width="0.3">420</text>
<text x="226.9" y="490.6" font-size="10.8" fill="#2b2b2b" text-anchor="end" transform="rotate(-25 226.9 490.6)" stroke="#2b2b2b" stroke-width="0.3">480</text>
<text x="246.7" y="490.6" font-size="10.8" fill="#2b2b2b" text-anchor="end" transform="rotate(-25 246.7 490.6)" stroke="#2b2b2b" stroke-width="0.3">540</text>
<text x="266.4" y="490.6" font-size="10.8" fill="#2b2b2b" text-anchor="end" transform="rotate(-25 266.4 490.6)" stroke="#2b2b2b" stroke-width="0.3">600</text>
<text x="78.4" y="449.5" font-size="10.8" fill="#2b2b2b" font-weight="normal" transform="rotate(-90 78.4 449.5)"  stroke="#2b2b2b" stroke-width="0.3">Equilibration</text>
<text x="108.6" y="448.1" font-size="10.8" fill="#2b2b2b" font-weight="normal" transform="rotate(-90 108.6 448.1)"  stroke="#2b2b2b" stroke-width="0.3">Functionalization</text>
<text x="162.2" y="447.1" font-size="10" fill="#2b2b2b" font-weight="normal" transform="rotate(-90 162.2 447.1)"  stroke="#2b2b2b" stroke-width="0.3">Washing-1</text>
<text x="218.9" y="378.6" font-size="10.85" fill="#2b2b2b" font-weight="normal" transform="rotate(-90 218.9 378.6)"  stroke="#2b2b2b" stroke-width="0.3">Streptavidin Detection</text>
<text x="246.8" y="378.5" font-size="10.6" fill="#2b2b2b" font-weight="normal" transform="rotate(-90 246.8 378.5)"  stroke="#2b2b2b" stroke-width="0.3">Washing-2</text>
<text x="83.4" y="305.7" font-size="10.5" fill="#111" stroke="#111" stroke-width="0.3">1 nM PLB</text>
<text x="134.6" y="324" font-size="10.6" fill="#111" stroke="#111" stroke-width="0.3">Base Line</text>
<text x="22.0" y="424.6" font-size="10.35" fill="#000" font-weight="bold" transform="rotate(-90 22.0 424.6)"  stroke="#000" stroke-width="0.3">Normalized I<tspan dy="2.5" font-size="7.5">DS</tspan><tspan dy="-2.5"> (I-I</tspan><tspan dy="2.5" font-size="7.5">0</tspan><tspan dy="-2.5">/I</tspan><tspan dy="2.5" font-size="7.5">0</tspan><tspan dy="-2.5">)</tspan></text>
<text x="9.8" y="276" font-size="20" fill="#000" stroke="#000" stroke-width="0.4">c</text>
<text x="144.0" y="517.1" font-size="11.2" font-weight="bold" fill="#000" stroke="#000" stroke-width="0.3">Time (s)</text>
<rect x="331.4" y="266.8" width="210.7" height="211.5" fill="none" stroke="#3c3c3c" stroke-width="1.2"/>
<line x1="331.4" y1="466.3" x2="335.9" y2="466.3" stroke="#3c3c3c" stroke-width="1.1"/>
<line x1="331.4" y1="428.9" x2="335.9" y2="428.9" stroke="#3c3c3c" stroke-width="1.1"/>
<line x1="331.4" y1="391.4" x2="335.9" y2="391.4" stroke="#3c3c3c" stroke-width="1.1"/>
<line x1="331.4" y1="354.0" x2="335.9" y2="354.0" stroke="#3c3c3c" stroke-width="1.1"/>
<line x1="331.4" y1="316.5" x2="335.9" y2="316.5" stroke="#3c3c3c" stroke-width="1.1"/>
<line x1="331.4" y1="279.1" x2="335.9" y2="279.1" stroke="#3c3c3c" stroke-width="1.1"/>
<line x1="331.4" y1="473.8" x2="333.9" y2="473.8" stroke="#3c3c3c" stroke-width="1.1"/>
<line x1="331.4" y1="458.8" x2="333.9" y2="458.8" stroke="#3c3c3c" stroke-width="1.1"/>
<line x1="331.4" y1="451.3" x2="333.9" y2="451.3" stroke="#3c3c3c" stroke-width="1.1"/>
<line x1="331.4" y1="443.8" x2="333.9" y2="443.8" stroke="#3c3c3c" stroke-width="1.1"/>
<line x1="331.4" y1="436.3" x2="333.9" y2="436.3" stroke="#3c3c3c" stroke-width="1.1"/>
<line x1="331.4" y1="421.4" x2="333.9" y2="421.4" stroke="#3c3c3c" stroke-width="1.1"/>
<line x1="331.4" y1="413.9" x2="333.9" y2="413.9" stroke="#3c3c3c" stroke-width="1.1"/>
<line x1="331.4" y1="406.4" x2="333.9" y2="406.4" stroke="#3c3c3c" stroke-width="1.1"/>
<line x1="331.4" y1="398.9" x2="333.9" y2="398.9" stroke="#3c3c3c" stroke-width="1.1"/>
<line x1="331.4" y1="383.9" x2="333.9" y2="383.9" stroke="#3c3c3c" stroke-width="1.1"/>
<line x1="331.4" y1="376.4" x2="333.9" y2="376.4" stroke="#3c3c3c" stroke-width="1.1"/>
<line x1="331.4" y1="369.0" x2="333.9" y2="369.0" stroke="#3c3c3c" stroke-width="1.1"/>
<line x1="331.4" y1="361.5" x2="333.9" y2="361.5" stroke="#3c3c3c" stroke-width="1.1"/>
<line x1="331.4" y1="346.5" x2="333.9" y2="346.5" stroke="#3c3c3c" stroke-width="1.1"/>
<line x1="331.4" y1="339.0" x2="333.9" y2="339.0" stroke="#3c3c3c" stroke-width="1.1"/>
<line x1="331.4" y1="331.5" x2="333.9" y2="331.5" stroke="#3c3c3c" stroke-width="1.1"/>
<line x1="331.4" y1="324.0" x2="333.9" y2="324.0" stroke="#3c3c3c" stroke-width="1.1"/>
<line x1="331.4" y1="309.1" x2="333.9" y2="309.1" stroke="#3c3c3c" stroke-width="1.1"/>
<line x1="331.4" y1="301.6" x2="333.9" y2="301.6" stroke="#3c3c3c" stroke-width="1.1"/>
<line x1="331.4" y1="294.1" x2="333.9" y2="294.1" stroke="#3c3c3c" stroke-width="1.1"/>
<line x1="331.4" y1="286.6" x2="333.9" y2="286.6" stroke="#3c3c3c" stroke-width="1.1"/>
<line x1="331.4" y1="271.6" x2="333.9" y2="271.6" stroke="#3c3c3c" stroke-width="1.1"/>
<line x1="373.2" y1="478.3" x2="373.2" y2="473.8" stroke="#3c3c3c" stroke-width="1.1"/>
<line x1="436.4" y1="478.3" x2="436.4" y2="473.8" stroke="#3c3c3c" stroke-width="1.1"/>
<line x1="499.6" y1="478.3" x2="499.6" y2="473.8" stroke="#3c3c3c" stroke-width="1.1"/>
<text x="329.0" y="470.1" font-size="10.6" fill="#2b2b2b" text-anchor="end" stroke="#2b2b2b" stroke-width="0.3">24</text>
<text x="329.0" y="432.7" font-size="10.6" fill="#2b2b2b" text-anchor="end" stroke="#2b2b2b" stroke-width="0.3">27</text>
<text x="329.0" y="395.2" font-size="10.6" fill="#2b2b2b" text-anchor="end" stroke="#2b2b2b" stroke-width="0.3">30</text>
<text x="329.0" y="357.8" font-size="10.6" fill="#2b2b2b" text-anchor="end" stroke="#2b2b2b" stroke-width="0.3">33</text>
<text x="329.0" y="320.3" font-size="10.6" fill="#2b2b2b" text-anchor="end" stroke="#2b2b2b" stroke-width="0.3">36</text>
<text x="329.0" y="282.9" font-size="10.6" fill="#2b2b2b" text-anchor="end" stroke="#2b2b2b" stroke-width="0.3">39</text>
<polygon points="386.5,444.1 385.6,445.2 382.6,447.5 381.0,449.8 383.4,451.5 388.4,453.5 392.6,455.2 393.2,456.6 391.9,458.2 390.2,459.2 356.6,459.2 354.9,458.2 353.6,456.6 354.2,455.2 358.4,453.5 363.4,451.5 365.8,449.8 364.2,447.5 361.2,445.2 360.3,444.1" fill="#fff" stroke="#000" stroke-width="2.1" stroke-linejoin="round"/>
<line x1="356.8" y1="454.8" x2="387.3" y2="454.8" stroke="#2020d0" stroke-width="1.5" stroke-dasharray="2.8 2.3"/>
<circle cx="373.2" cy="443.7" r="4.2" fill="#000" stroke="none" stroke-width="1.05"/>
<circle cx="364.9" cy="460.0" r="4.2" fill="#000" stroke="none" stroke-width="1.05"/>
<circle cx="382.2" cy="455.4" r="4.2" fill="#000" stroke="none" stroke-width="1.05"/>
<polygon points="456.0,313.9 456.8,315.0 457.0,318.0 455.5,321.0 451.5,325.0 445.5,330.0 442.5,334.0 441.9,337.2 442.5,340.0 445.0,344.0 447.5,348.0 448.5,350.2 424.5,350.2 425.5,348.0 428.0,344.0 430.5,340.0 431.1,337.2 430.5,334.0 427.5,330.0 421.5,325.0 417.5,321.0 416.0,318.0 416.2,315.0 417.0,313.9" fill="#fff" stroke="#999" stroke-width="2.2" stroke-linejoin="round"/>
<line x1="420" y1="323.2" x2="450.5" y2="323.2" stroke="#000" stroke-width="1.4" stroke-dasharray="3 2.6"/>
<rect x="432.2" y="310" width="9.1" height="17.5" fill="#000"/>
<rect x="432.2" y="345.8" width="9.1" height="8.8" fill="#000"/>
<polygon points="518.2,292.2 519.5,293.5 520.1,296.0 520.0,300.0 518.0,304.0 515.0,308.0 511.0,313.0 508.5,318.0 508.3,320.5 509.0,323.0 511.5,328.0 513.5,332.0 513.9,334.4 486.1,334.4 486.5,332.0 488.5,328.0 491.0,323.0 491.7,320.5 491.5,318.0 489.0,313.0 485.0,308.0 482.0,304.0 480.0,300.0 479.9,296.0 480.5,293.5 481.8,292.2" fill="#fff" stroke="#999" stroke-width="2.2" stroke-linejoin="round"/>
<line x1="482.9" y1="306.6" x2="514.8" y2="306.6" stroke="#000" stroke-width="1.4" stroke-dasharray="3 2.6"/>
<polygon points="495.5,296.7 504.5,296.7 500.0,288.1" fill="#000" stroke="none" stroke-width="1.05"/>
<polygon points="495.5,310.8 504.5,310.8 500.0,302.2" fill="#000" stroke="none" stroke-width="1.05"/>
<polygon points="495.5,339.3 504.5,339.3 500.0,330.7" fill="#000" stroke="none" stroke-width="1.05"/>
<text x="375.4" y="493.2" font-size="10.6" fill="#2b2b2b" text-anchor="end" xml:space="preserve" transform="rotate(-13 375.4 493.2)" stroke="#2b2b2b" stroke-width="0.3">0.01 nM PLB</text>
<text x="438.6" y="493.2" font-size="10.6" fill="#2b2b2b" text-anchor="end" xml:space="preserve" transform="rotate(-13 438.6 493.2)" stroke="#2b2b2b" stroke-width="0.3">1 nM PLB</text>
<text x="501.8" y="493.2" font-size="10.6" fill="#2b2b2b" text-anchor="end" xml:space="preserve" transform="rotate(-13 501.8 493.2)" stroke="#2b2b2b" stroke-width="0.3">100 nM  PLB</text>
<text x="352.3" y="517.9" font-size="10.5" font-weight="bold" fill="#000" stroke="#000" stroke-width="0.3">Streptavidin Concentration (1 nM)</text>
<text x="308.2" y="462.0" font-size="10.5" fill="#000" font-weight="bold" transform="rotate(-90 308.2 462.0)"  stroke="#000" stroke-width="0.3">Percentage Response [(I-I<tspan dy="2.5" font-size="7.5">o</tspan><tspan dy="-2.5">/I</tspan><tspan dy="2.5" font-size="7.5">o</tspan><tspan dy="-2.5">)] x 100</tspan></text>
<text x="283.2" y="275.5" font-size="20.5" fill="#000" stroke="#000" stroke-width="0.4">d</text>
</svg></body></html>
